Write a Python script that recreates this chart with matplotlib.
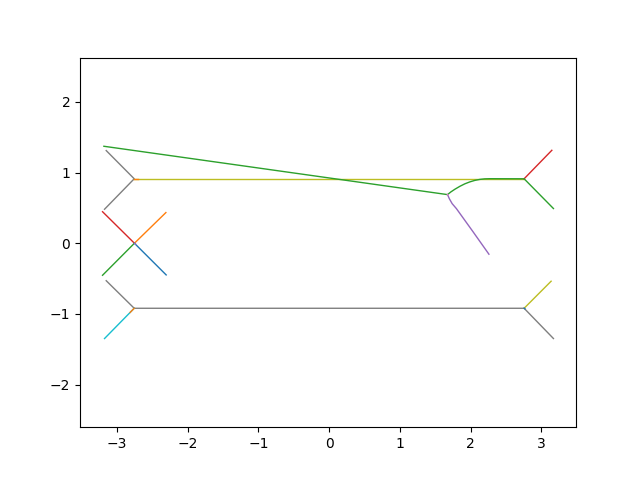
import matplotlib
matplotlib.use("Agg")
import matplotlib.pyplot as plt

# left-side junctions
V1 = (-2.758, 0.912)
C0 = (-2.755, 0.0)
V2 = (-2.758, -0.920)
# right-side junctions
V3 = (2.758, 0.912)
V4 = (2.758, -0.920)
J = (1.675, 0.688)

green_long_x = [-3.187, J[0], 1.72, 1.78, 1.85, 1.92, 1.99, 2.06, 2.13, 2.20, 2.27, V3[0]]
green_long_y = [1.372, J[1], 0.725, 0.765, 0.806, 0.841, 0.868, 0.889, 0.903, 0.911, 0.913, V3[1]]

purple_x = [J[0], 1.70, 1.74, 1.80, 2.03, 2.26]
purple_y = [J[1], 0.630, 0.560, 0.490, 0.170, -0.155]

segments = [
    # (xs, ys, colour)
    ([-3.154, V1[0], -3.178], [1.311, V1[1], 0.481], "tab:gray"),
    ([V1[0], V3[0]], [V1[1], V3[1]], "tab:olive"),
    ([V1[0], -2.71], [V1[1], V1[1]], "tab:orange"),
    ([-3.206, C0[0]], [0.446, C0[1]], "tab:red"),
    ([C0[0], -2.310], [C0[1], 0.434], "tab:orange"),
    ([C0[0], -3.206], [C0[1], -0.453], "tab:green"),
    ([C0[0], -2.306], [C0[1], -0.448], "tab:blue"),
    ([C0[0], -2.74], [C0[1], -0.012], "tab:purple"),
    ([-3.154, V2[0], V4[0]], [-0.530, V2[1], V4[1]], "tab:gray"),
    ([V2[0], -3.178], [V2[1], -1.348], "tab:cyan"),
    ([V2[0], -2.815], [V2[1], -0.978], "tab:orange"),
    (green_long_x, green_long_y, "tab:green"),
    (purple_x, purple_y, "tab:purple"),
    ([J[0], 1.68], [J[1], 0.685], "tab:pink"),
    ([V3[0], 3.150], [V3[1], 1.315], "tab:red"),
    ([V3[0], 3.173], [V3[1], 0.491], "tab:green"),
    ([V4[0], 3.140], [V4[1], -0.537], "tab:olive"),
    ([V4[0], 3.173], [V4[1], -1.348], "tab:gray"),
    ([V4[0], 2.77], [V4[1], -0.928], "tab:blue"),
]

fig, ax = plt.subplots(figsize=(6.4, 4.8), dpi=100)
for xs, ys, col in segments:
    ax.plot(xs, ys, color=col, linewidth=1.0)

ax.set_aspect("equal", adjustable="datalim")
fig.savefig("out.png", dpi=100)
